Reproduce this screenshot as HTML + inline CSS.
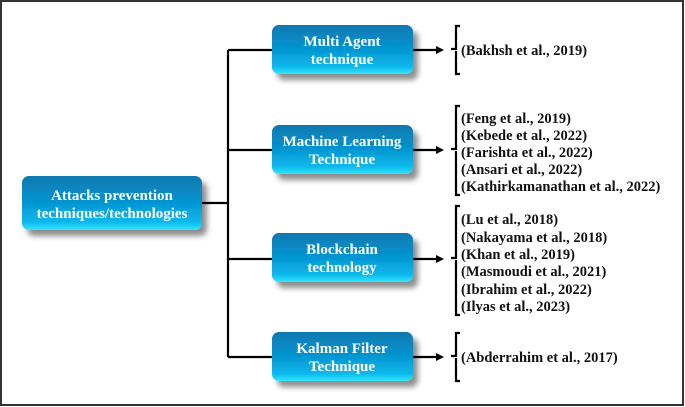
<!DOCTYPE html>
<html><head><meta charset="utf-8"><style>
html,body{margin:0;padding:0;background:#fff}
svg{display:block}
</style></head><body>
<svg width="685" height="407" viewBox="0 0 685 407" xmlns="http://www.w3.org/2000/svg">
<defs>
<linearGradient id="g" x1="0" y1="0" x2="0" y2="1">
<stop offset="0" stop-color="#0a78b0"/><stop offset="0.5" stop-color="#0596d2"/><stop offset="0.85" stop-color="#0ab8ec"/><stop offset="1" stop-color="#35e6ff"/>
</linearGradient>
<filter id="s" x="-20%" y="-20%" width="150%" height="160%"><feGaussianBlur in="SourceAlpha" stdDeviation="3"/><feOffset dx="5" dy="6"/><feComponentTransfer><feFuncA type="linear" slope="0.45"/></feComponentTransfer><feMerge><feMergeNode/><feMergeNode in="SourceGraphic"/></feMerge></filter>
</defs>
<rect x="1" y="1" width="682" height="404" fill="#fff" stroke="#333" stroke-width="2"/>
<g stroke="#000" stroke-width="2.2" fill="none">
<path d="M202,203 H228 M228,50 V357 M228,50 H272 M228,150 H272 M228,259 H272 M228,357 H272"/>
<path d="M413,50 H437 M413,150 H437 M413,259 H437 M413,357 H437"/>
<path d="M460,26 H456 V49 H451 M456,51 V74 H460"/>
<path d="M460,106 H456 V149 H451 M456,151 V195 H460"/>
<path d="M460,206 H456 V258 H451 M456,260 V315 H460"/>
<path d="M460,333 H456 V356 H451 M456,358 V381 H460"/>
</g>
<g fill="#000">
<path d="M436,46 L444,50 L436,54z"/>
<path d="M436,146 L444,150 L436,154z"/>
<path d="M436,255 L444,259 L436,263z"/>
<path d="M436,353 L444,357 L436,361z"/>
</g>
<g filter="url(#s)" fill="url(#g)">
<rect x="22" y="176" width="180" height="54" rx="7"/>
<rect x="272" y="25" width="141" height="49" rx="7"/>
<rect x="272" y="125" width="141" height="49" rx="7"/>
<rect x="272" y="233" width="141" height="49" rx="7"/>
<rect x="272" y="332" width="141" height="49" rx="7"/>
</g>
<g font-family="'Liberation Serif','DejaVu Serif',serif" font-weight="bold" font-size="15" fill="#fff" text-anchor="middle">
<text x="112" y="200">Attacks prevention</text>
<text x="112" y="218">techniques/technologies</text>
<text x="342" y="46">Multi Agent</text>
<text x="342" y="64">technique</text>
<text x="342" y="146">Machine Learning</text>
<text x="342" y="164">Technique</text>
<text x="342" y="254">Blockchain</text>
<text x="342" y="272">technology</text>
<text x="342" y="353">Kalman Filter</text>
<text x="342" y="371">Technique</text>
</g>
<g font-family="'Liberation Serif','DejaVu Serif',serif" font-weight="bold" font-size="14.5" fill="#111">
<text x="461" y="55">(Bakhsh et al., 2019)</text>
<text x="461" y="123">(Feng et al., 2019)</text>
<text x="461" y="140">(Kebede et al., 2022)</text>
<text x="461" y="157">(Farishta et al., 2022)</text>
<text x="461" y="174">(Ansari et al., 2022)</text>
<text x="461" y="191">(Kathirkamanathan et al., 2022)</text>
<text x="461" y="224">(Lu et al., 2018)</text>
<text x="461" y="242">(Nakayama et al., 2018)</text>
<text x="461" y="259">(Khan et al., 2019)</text>
<text x="461" y="276">(Masmoudi et al., 2021)</text>
<text x="461" y="294">(Ibrahim et al., 2022)</text>
<text x="461" y="311">(Ilyas et al., 2023)</text>
<text x="461" y="362">(Abderrahim et al., 2017)</text>
</g>
</svg>
</body></html>
